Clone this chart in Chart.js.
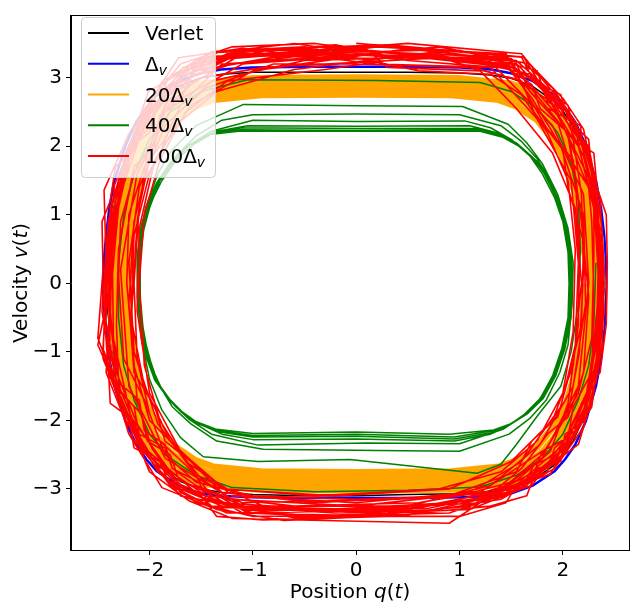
<!DOCTYPE html>
<html>
<head>
<meta charset="utf-8">
<script src="https://cdn.jsdelivr.net/npm/chart.js@4.4.1/dist/chart.umd.min.js"></script>
<style>
  html, body { margin: 0; padding: 0; background: #fff; }
</style>
</head>
<body>
<canvas id="phase" width="635" height="611"></canvas>
<script>
// legend text: main part + italic subscript
var legendMain = ["Verlet", "\u0394", "20\u0394", "40\u0394", "100\u0394"];
var legendSub = ["", "v", "v", "v", "v"];
var seriesColors = ["#000000", "#0000ff", "#ffa500", "#008000", "#ff0000"];

var xTicks = [-2, -1, 0, 1, 2];
var yTicks = [-3, -2, -1, 0, 1, 2, 3];

// Verlet reference orbit
var verletQ = [0, 0.5, 1.0, 1.3, 1.5, 1.7, 1.9, 2.0, 2.1, 2.2, 2.3, 2.35, 2.38, 2.395, 2.4,
  2.395, 2.38, 2.35, 2.3, 2.2, 2.1, 2.0, 1.9, 1.7, 1.5, 1.3, 1.0, 0.5, 0,
  -0.5, -1.0, -1.3, -1.5, -1.7, -1.9, -2.0, -2.1, -2.2, -2.3, -2.35, -2.38, -2.41, -2.43,
  -2.41, -2.38, -2.35, -2.3, -2.2, -2.1, -2.0, -1.9, -1.7, -1.5, -1.3, -1.0, -0.5, 0];
var verletV = [3.08, 3.08, 3.07, 3.04, 2.99, 2.88, 2.67, 2.51, 2.29, 1.97, 1.46, 1.06, 0.68, 0.35, 0,
  -0.35, -0.68, -1.06, -1.46, -1.97, -2.29, -2.51, -2.67, -2.88, -2.99, -3.04, -3.07, -3.08, -3.1,
  -3.1, -3.08, -3.05, -3.0, -2.89, -2.68, -2.52, -2.3, -1.98, -1.47, -1.07, -0.69, -0.35, 0,
  0.35, 0.69, 1.07, 1.47, 1.98, 2.3, 2.52, 2.68, 2.89, 3.0, 3.05, 3.08, 3.08, 3.08];

// Delta_v orbit
var blueQ = [0, 0.5, 1.01, 1.31, 1.51, 1.71, 1.92, 2.02, 2.12, 2.22, 2.32, 2.37, 2.4, 2.415, 2.42,
  2.415, 2.4, 2.37, 2.32, 2.22, 2.12, 2.02, 1.92, 1.71, 1.51, 1.31, 1.01, 0.5, 0,
  -0.5, -1.01, -1.31, -1.52, -1.72, -1.93, -2.03, -2.13, -2.23, -2.34, -2.39, -2.42, -2.44, -2.45,
  -2.44, -2.42, -2.39, -2.34, -2.23, -2.13, -2.03, -1.93, -1.72, -1.52, -1.31, -1.01, -0.5, 0];
var blueV = [3.16, 3.16, 3.15, 3.12, 3.06, 2.95, 2.74, 2.57, 2.35, 2.02, 1.5, 1.09, 0.7, 0.36, 0,
  -0.36, -0.7, -1.09, -1.5, -2.02, -2.35, -2.57, -2.74, -2.95, -3.06, -3.1, -3.12, -3.13, -3.13,
  -3.13, -3.12, -3.1, -3.06, -2.95, -2.74, -2.57, -2.35, -2.02, -1.5, -1.09, -0.7, -0.36, 0,
  0.36, 0.7, 1.09, 1.5, 2.02, 2.35, 2.57, 2.74, 2.95, 3.06, 3.12, 3.15, 3.16, 3.16];

// 20 Delta_v orbits (drawn thick, they form the orange band)
var orangeQ = [
  2.21, 2.19, 2.12, 2.03, 1.93, 1.75, 1.56, 1.38, 0.92, 0, -0.92, -1.38, -1.56, -1.75, -1.93, -2.03, -2.12, -2.19,
  -2.21, -2.19, -2.12, -2.03, -1.93, -1.75, -1.56, -1.38, -0.92, 0, 0.92, 1.38, 1.56, 1.75, 1.93, 2.03, 2.12, 2.19,
  2.27, 2.25, 2.17, 2.08, 1.99, 1.8, 1.61, 1.42, 0.95, 0, -0.95, -1.42, -1.61, -1.8, -1.99, -2.08, -2.17, -2.25,
  -2.27, -2.25, -2.17, -2.08, -1.99, -1.8, -1.61, -1.42, -0.95, 0, 0.95, 1.42, 1.61, 1.8, 1.99, 2.08, 2.17, 2.25,
  2.33, 2.31, 2.23, 2.14, 2.04, 1.85, 1.65, 1.46, 0.97, 0, -0.97, -1.46, -1.65, -1.85, -2.04, -2.14, -2.23, -2.31,
  -2.33, -2.31, -2.23, -2.14, -2.04, -1.85, -1.65, -1.46, -0.97, 0, 0.97, 1.46, 1.65, 1.85, 2.04, 2.14, 2.23, 2.31,
  2.38, 2.36, 2.28, 2.18, 2.08, 1.88, 1.69, 1.49, 0.99, 0, -0.99, -1.49, -1.69, -1.88, -2.08, -2.18, -2.28, -2.36,
  -2.38, -2.36, -2.28, -2.18, -2.08, -1.88, -1.69, -1.49, -0.99, 0, 0.99, 1.49, 1.69, 1.88, 2.08, 2.18, 2.28, 2.36, 2.38];
var orangeV = [
  0, -0.61, -1.31, -1.77, -2.05, -2.39, -2.58, -2.68, -2.75, -2.76, -2.75, -2.68, -2.58, -2.39, -2.05, -1.77, -1.31, -0.61,
  0, 0.61, 1.31, 1.77, 2.05, 2.39, 2.58, 2.68, 2.75, 2.76, 2.75, 2.68, 2.58, 2.39, 2.05, 1.77, 1.31, 0.61,
  0, -0.63, -1.35, -1.82, -2.12, -2.47, -2.66, -2.77, -2.84, -2.85, -2.84, -2.77, -2.66, -2.47, -2.12, -1.82, -1.35, -0.63,
  0, 0.63, 1.35, 1.82, 2.12, 2.47, 2.66, 2.77, 2.84, 2.85, 2.84, 2.77, 2.66, 2.47, 2.12, 1.82, 1.35, 0.63,
  0, -0.65, -1.39, -1.88, -2.18, -2.54, -2.74, -2.85, -2.92, -2.93, -2.92, -2.85, -2.74, -2.54, -2.18, -1.88, -1.39, -0.65,
  0, 0.65, 1.39, 1.88, 2.18, 2.54, 2.74, 2.85, 2.92, 2.93, 2.92, 2.85, 2.74, 2.54, 2.18, 1.88, 1.39, 0.65,
  0, -0.66, -1.42, -1.92, -2.23, -2.6, -2.81, -2.91, -3.0, -3.02, -3.0, -2.92, -2.82, -2.61, -2.24, -1.93, -1.43, -0.66,
  0, 0.66, 1.42, 1.92, 2.23, 2.6, 2.81, 2.91, 2.99, 3.0, 2.99, 2.91, 2.81, 2.6, 2.23, 1.92, 1.42, 0.66, 0];

// 40 Delta_v orbit, [q, v] pairs
var greenOrbit = [
  [2.32, 0.3], [2.3, -0.6], [2.25, -1.2], [2.15, -1.7], [2.0, -2.2], [1.8, -2.55], [1.55, -2.8], [1.2, -2.97], [0.5, -3.02], [-0.4, -3.04],
  [-1.2, -2.98], [-1.55, -2.8], [-1.8, -2.55], [-2.0, -2.2], [-2.15, -1.7], [-2.25, -1.2], [-2.3, -0.5], [-2.3, 0.3], [-2.25, 1.0], [-2.15, 1.6],
  [-2.0, 2.1], [-1.8, 2.5], [-1.5, 2.8], [-1.05, 2.97], [0.2, 2.96], [1.2, 2.93], [1.5, 2.8], [1.75, 2.55], [1.95, 2.2], [2.08, 1.75], [2.15, 1.2], [2.17, 0.5],
  [2.15, -0.3], [2.08, -1.0], [1.98, -1.5], [1.76, -1.92], [1.55, -2.35], [1.4, -2.64], [1.17, -2.77], [-0.06, -2.57], [-0.95, -2.6], [-1.48, -2.53],
  [-1.7, -2.25], [-1.88, -1.85], [-2.0, -1.4], [-2.08, -0.8], [-2.12, 0.0], [-2.1, 0.6], [-2.04, 1.1], [-1.92, 1.6], [-1.78, 1.95], [-1.55, 2.3],
  [-1.09, 2.61], [0.0, 2.59], [1.03, 2.58], [1.47, 2.32], [1.65, 2.05], [1.8, 1.75], [1.95, 1.3], [2.05, 0.8], [2.1, 0.3],
  [2.09, -0.3], [2.05, -0.9], [1.97, -1.3], [1.84, -1.7], [1.68, -1.97], [1.48, -2.2], [1.0, -2.45], [0.2, -2.44], [-0.9, -2.42], [-1.35, -2.3],
  [-1.6, -2.05], [-1.78, -1.8], [-1.92, -1.45], [-2.02, -1.0], [-2.08, -0.5], [-2.1, 0.2], [-2.07, 0.7], [-2.0, 1.1], [-1.9, 1.5], [-1.75, 1.85],
  [-1.55, 2.15], [-1.3, 2.38], [-1.0, 2.46], [0.0, 2.47], [1.0, 2.46], [1.4, 2.3], [1.6, 2.07], [1.75, 1.82], [1.88, 1.5], [1.98, 1.1], [2.05, 0.6],
  [2.07, 0.0], [2.06, -0.5], [2.0, -1.0], [1.9, -1.4], [1.76, -1.72], [1.6, -1.95], [1.42, -2.13], [1.0, -2.34], [0.1, -2.33], [-0.95, -2.36],
  [-1.4, -2.2], [-1.62, -1.98], [-1.76, -1.78], [-1.88, -1.55], [-1.97, -1.25], [-2.05, -0.8], [-2.09, -0.3], [-2.1, 0.3], [-2.06, 0.8], [-2.0, 1.15],
  [-1.9, 1.5], [-1.76, 1.8], [-1.6, 2.03], [-1.4, 2.22], [-1.0, 2.38], [0.0, 2.36], [1.05, 2.37], [1.3, 2.27], [1.5, 2.1], [1.68, 1.86], [1.8, 1.6],
  [1.92, 1.25], [2.0, 0.9], [2.05, 0.45],
  [2.06, 0.0], [2.05, -0.5], [1.99, -0.95], [1.9, -1.35], [1.78, -1.68], [1.62, -1.92], [1.45, -2.1], [1.3, -2.2], [0.95, -2.3], [0.0, -2.27],
  [-1.0, -2.28], [-1.3, -2.2], [-1.52, -2.05], [-1.68, -1.88], [-1.8, -1.7], [-1.92, -1.45], [-2.0, -1.15], [-2.06, -0.7], [-2.09, -0.2], [-2.09, 0.4],
  [-2.05, 0.85], [-1.98, 1.2], [-1.88, 1.5], [-1.74, 1.8], [-1.57, 2.03], [-1.35, 2.22], [-1.05, 2.3], [0.0, 2.29], [1.1, 2.3], [1.35, 2.2],
  [1.55, 2.05], [1.7, 1.85], [1.82, 1.6], [1.92, 1.3], [2.0, 0.95], [2.05, 0.45],
  [2.07, 0.0], [2.06, -0.5], [2.0, -0.95], [1.91, -1.35], [1.79, -1.68], [1.64, -1.92], [1.47, -2.08], [1.3, -2.18], [0.95, -2.27], [0.0, -2.23],
  [-1.0, -2.24], [-1.32, -2.17], [-1.53, -2.05], [-1.69, -1.88], [-1.81, -1.7], [-1.93, -1.45], [-2.01, -1.12], [-2.07, -0.68], [-2.1, -0.2], [-2.1, 0.4],
  [-2.06, 0.85], [-1.99, 1.2], [-1.9, 1.5], [-1.76, 1.8], [-1.6, 2.03], [-1.38, 2.2], [-1.1, 2.27], [0.0, 2.26], [1.15, 2.26], [1.38, 2.17],
  [1.57, 2.02], [1.72, 1.82], [1.84, 1.58], [1.93, 1.28], [2.01, 0.93], [2.06, 0.45],
  [2.08, 0.0], [2.07, -0.5], [2.01, -0.95], [1.92, -1.35], [1.8, -1.68], [1.65, -1.9], [1.48, -2.06], [1.32, -2.15], [0.95, -2.24], [0.0, -2.2],
  [-1.0, -2.22], [-1.33, -2.15], [-1.55, -2.03], [-1.7, -1.87], [-1.82, -1.68], [-1.94, -1.43], [-2.02, -1.1], [-2.08, -0.66], [-2.11, -0.2], [-2.11, 0.4],
  [-2.07, 0.85], [-2.0, 1.2], [-1.92, 1.48], [-1.78, 1.78], [-1.62, 2.01], [-1.4, 2.18], [-1.12, 2.24], [0.0, 2.23], [1.18, 2.24], [1.4, 2.15],
  [1.58, 2.0], [1.73, 1.8], [1.85, 1.56], [1.94, 1.26], [2.02, 0.92], [2.07, 0.45],
  [2.09, 0.0], [2.08, -0.5], [2.02, -0.95], [1.93, -1.35], [1.81, -1.68], [1.66, -1.9], [1.49, -2.05], [1.33, -2.14], [0.9, -2.2], [0.0, -2.17],
  [-1.0, -2.19], [-1.35, -2.13], [-1.56, -2.01], [-1.71, -1.85], [-1.83, -1.66], [-1.95, -1.41], [-2.03, -1.08], [-2.09, -0.64], [-2.12, -0.2], [-2.12, 0.4],
  [-2.08, 0.85], [-2.01, 1.2], [-1.93, 1.47], [-1.8, 1.76], [-1.64, 2.0], [-1.42, 2.17], [-1.14, 2.22], [0.0, 2.22], [1.2, 2.22], [1.42, 2.13],
  [1.6, 1.98], [1.75, 1.78], [1.86, 1.54], [1.95, 1.24], [2.03, 0.9], [2.08, 0.45], [2.09, 0.0]
];

// 100 Delta_v orbit, [q, v] pairs
var redOrbit = [
  [0.0, 3.5], [1.6, 3.3], [1.7, 3.0], [2.1, 2.4], [2.2, 1.7], [2.38, 0.6], [2.35, -1.1], [2.2, -1.95], [1.88, -2.78], [1.3, -3.1], [0.9, -3.5],
  [-1.2, -3.43], [-1.62, -3.17], [-2.0, -2.75], [-2.45, -1.1], [-2.42, 0.3], [-2.44, 1.36], [-2.2, 2.18], [-1.72, 3.29], [-1.1, 3.43],
  [0.2, 3.2], [1.3, 3.15], [1.75, 2.4], [2.08, 1.5], [2.15, 0.3], [2.12, -0.9], [1.98, -1.8], [1.6, -2.6], [1.1, -3.05], [0.0, -3.2],
  [-1.2, -3.1], [-1.7, -2.45], [-2.0, -1.6], [-2.12, -0.4], [-2.1, 0.8], [-1.95, 1.8], [-1.6, 2.6], [-1.0, 3.1],
  [0.5, 3.42], [1.55, 3.25], [1.85, 2.85], [1.95, 2.55], [2.2, 2.0], [2.3, 1.5], [2.4, 0.0], [2.3, -1.6], [2.15, -2.35], [1.75, -2.8], [1.2, -3.15],
  [0.2, -3.3], [-1.4, -3.27], [-1.88, -2.98], [-2.2, -2.2], [-2.38, -1.3], [-2.4, 0.5], [-2.34, 1.43], [-2.1, 2.32], [-1.88, 2.94], [-1.5, 3.3], [-0.6, 3.38],
  [0.6, 3.3], [1.45, 3.18], [1.7, 2.7], [1.98, 2.0], [2.2, 1.0], [2.22, -0.3], [2.1, -1.5], [1.78, -2.35], [1.3, -2.95], [0.5, -3.25],
  [-0.9, -3.25], [-1.55, -2.8], [-1.92, -2.05], [-2.15, -1.0], [-2.2, 0.3], [-2.1, 1.4], [-1.85, 2.3], [-1.4, 2.95], [-0.5, 3.25],
  [0.6, 3.3], [1.45, 3.2], [1.8, 2.6], [2.17, 2.3], [2.2, 1.9], [2.33, 1.0], [2.35, -0.6], [2.2, -1.92], [2.0, -2.5], [1.6, -2.9], [1.0, -3.22],
  [-0.8, -3.35], [-1.5, -3.12], [-1.85, -2.85], [-2.15, -2.1], [-2.5, -0.9], [-2.36, 0.1], [-2.27, 1.65], [-2.01, 2.8], [-1.34, 3.37], [-0.3, 3.45],
  [0.9, 3.3], [1.7, 3.05], [1.9, 2.6], [2.1, 2.1], [2.18, 1.3], [2.2, 0.2], [2.16, -1.0], [2.05, -1.9], [1.8, -2.5], [1.45, -2.95], [0.9, -3.2],
  [-0.3, -3.3], [-1.3, -3.2], [-1.75, -2.9], [-1.98, -2.4], [-2.12, -1.7], [-2.18, -0.6], [-2.12, 0.9], [-2.02, 1.9], [-1.85, 2.6], [-1.55, 3.1], [-0.8, 3.3],
  [0.0, 3.35], [1.5, 3.25], [1.62, 2.85], [1.85, 2.25], [2.1, 1.8], [2.18, 0.9], [2.25, -0.2], [2.2, -1.3], [2.05, -1.95], [1.85, -2.2], [1.6, -2.7],
  [1.2, -3.2], [0.0, -3.3], [-1.1, -3.25], [-1.5, -2.85], [-1.8, -2.3], [-2.0, -2.0], [-2.15, -1.2], [-2.22, 0.0], [-2.2, 1.0], [-2.05, 1.7],
  [-1.85, 2.1], [-1.7, 2.6], [-1.3, 3.2],
  [0.1, 3.35], [1.3, 3.22], [1.62, 3.05], [1.95, 2.7], [2.15, 2.2], [2.3, 1.35], [2.36, 0.35], [2.32, -0.9], [2.2, -2.0], [1.95, -2.6], [1.45, -3.05],
  [0.7, -3.28], [-0.5, -3.3], [-1.25, -3.35], [-1.7, -3.05], [-1.98, -2.6], [-2.25, -1.95], [-2.42, -1.3], [-2.38, -0.2], [-2.3, 1.1], [-2.18, 1.9],
  [-1.98, 2.55], [-1.65, 3.1], [-1.2, 3.3],
  [0.5, 3.5], [1.6, 3.35], [1.76, 3.05], [2.02, 2.58], [2.24, 1.95], [2.34, 1.0], [2.4, -0.1], [2.3, -1.4], [2.12, -2.2], [1.8, -2.75], [1.3, -3.12],
  [0.5, -3.38], [-0.7, -3.46], [-1.35, -3.3], [-1.8, -2.95], [-2.1, -2.35], [-2.36, -1.4], [-2.46, -0.4], [-2.4, 0.9], [-2.22, 1.95], [-2.0, 2.65],
  [-1.7, 3.2], [-1.2, 3.45], [-0.4, 3.5],
  [0.9, 3.25], [1.6, 2.95], [1.72, 2.5], [2.0, 1.95], [2.05, 1.4], [2.2, 0.6], [2.18, -0.6], [2.05, -1.4], [1.95, -1.95], [1.7, -2.3], [1.55, -2.75],
  [0.9, -3.1], [-0.4, -3.2], [-1.3, -3.05], [-1.6, -2.6], [-1.85, -2.3], [-1.95, -1.8], [-2.15, -1.3], [-2.2, -0.3], [-2.15, 0.9], [-2.05, 1.5],
  [-1.9, 1.9], [-1.75, 2.45], [-1.45, 2.85], [-0.8, 3.2],
  [0.0, 3.2], [1.1, 3.15], [1.55, 2.98], [1.88, 2.65], [2.05, 2.15], [2.12, 1.5], [2.16, 0.6], [2.15, -0.6], [2.05, -1.75], [1.88, -2.45], [1.55, -2.88],
  [1.0, -3.1], [0.0, -3.15], [-1.0, -3.1], [-1.55, -2.9], [-1.85, -2.5], [-2.0, -1.9], [-2.12, -1.1], [-2.15, 0.0], [-2.1, 1.1], [-1.98, 1.95],
  [-1.85, 2.55], [-1.55, 2.98], [-0.9, 3.15],
  [0.7, 3.28], [1.5, 3.15], [1.8, 2.9], [2.08, 2.42], [2.28, 1.75], [2.38, 0.8], [2.38, -0.7], [2.25, -1.7], [2.0, -2.4], [1.65, -2.95], [1.1, -3.25],
  [0.2, -3.38], [-1.0, -3.4], [-1.55, -3.2], [-1.92, -2.75], [-2.18, -2.1], [-2.4, -1.3], [-2.45, -0.1], [-2.36, 1.2], [-2.2, 2.0], [-1.95, 2.7],
  [-1.6, 3.2], [-1.0, 3.4], [0.1, 3.42],
  [0.3, 3.15], [1.2, 3.1], [1.55, 2.55], [1.9, 1.9], [2.12, 1.1], [2.18, 0.0], [2.1, -1.2], [1.9, -2.0], [1.5, -2.6], [0.9, -3.0], [-0.2, -3.1],
  [-1.3, -3.0], [-1.8, -2.3], [-2.05, -1.5], [-2.18, -0.5], [-2.15, 0.7], [-2.0, 1.6], [-1.75, 2.3], [-1.35, 2.8], [-0.6, 3.12],
  [0.8, 3.38], [1.62, 3.22], [1.9, 2.85], [2.12, 2.35], [2.3, 1.55], [2.37, 0.4], [2.34, -1.0], [2.18, -2.05], [1.9, -2.62], [1.4, -3.0], [0.6, -3.2],
  [-0.6, -3.25], [-1.45, -3.1], [-1.85, -2.7], [-2.12, -2.05], [-2.32, -1.3], [-2.4, -0.3], [-2.34, 0.95], [-2.2, 1.8], [-1.98, 2.5], [-1.7, 3.0],
  [-1.2, 3.3], [-0.2, 3.35],
  [0.4, 3.3], [1.4, 3.25], [1.68, 3.0], [1.98, 2.55], [2.2, 1.85], [2.32, 1.1], [2.39, 0.0], [2.35, -1.2], [2.2, -2.1], [1.92, -2.7], [1.4, -3.15],
  [0.8, -3.3], [-0.2, -3.35], [-1.3, -3.25], [-1.7, -3.0], [-2.0, -2.5], [-2.25, -1.8], [-2.45, -0.95], [-2.4, 0.4], [-2.3, 1.5], [-2.1, 2.25],
  [-1.85, 2.8], [-1.45, 3.25], [-0.6, 3.35],
  [0.7, 3.4], [1.55, 3.2], [1.68, 2.8], [1.95, 2.35], [2.05, 1.85], [2.3, 1.3], [2.3, 0.4], [2.28, -0.8], [2.15, -1.6], [1.95, -2.1], [1.8, -2.55],
  [1.5, -2.9], [1.05, -3.3], [-0.3, -3.4], [-1.05, -3.35], [-1.45, -3.0], [-1.65, -2.65], [-1.9, -2.3], [-2.05, -1.7], [-2.25, -1.1], [-2.3, 0.1],
  [-2.28, 0.9], [-2.15, 1.6], [-2.0, 2.0], [-1.85, 2.5], [-1.6, 2.9], [-1.1, 3.35],
  [-0.3, 3.28], [1.2, 3.3], [1.5, 3.1], [1.7, 2.9], [1.78, 2.55], [2.05, 2.2], [2.1, 1.75], [2.25, 1.4], [2.28, 0.9], [2.3, -0.2], [2.28, -1.3],
  [2.1, -1.8], [2.05, -2.25], [1.8, -2.45], [1.7, -2.85], [1.35, -3.05], [0.4, -3.15], [-1.1, -3.2], [-1.55, -2.95], [-1.78, -2.7], [-1.85, -2.35],
  [-2.05, -2.15], [-2.1, -1.7], [-2.3, -1.45], [-2.32, -0.6], [-2.3, 0.5], [-2.2, 1.3], [-2.15, 1.7], [-1.95, 2.0], [-1.9, 2.45], [-1.7, 2.65],
  [-1.62, 3.0], [-1.2, 3.2],
  [0.2, 3.45], [1.45, 3.35], [1.55, 3.1], [1.78, 2.95], [1.85, 2.65], [2.05, 2.5], [2.1, 2.1], [2.3, 1.9], [2.33, 1.4], [2.42, 1.0], [2.43, 0.3],
  [2.42, -0.6], [2.36, -1.3], [2.25, -1.5], [2.22, -2.0], [2.02, -2.2], [1.98, -2.6], [1.75, -2.7], [1.65, -3.1], [1.3, -3.25], [0.3, -3.4],
  [-0.9, -3.45], [-1.35, -3.4], [-1.5, -3.1], [-1.8, -2.95], [-1.9, -2.6], [-2.15, -2.4], [-2.2, -1.95], [-2.38, -1.75], [-2.4, -1.2], [-2.5, -0.8],
  [-2.45, 0.2], [-2.46, 0.9], [-2.38, 1.2], [-2.33, 1.7], [-2.15, 1.95], [-2.1, 2.4], [-1.9, 2.65], [-1.82, 3.0], [-1.6, 3.15], [-1.4, 3.38], [-0.5, 3.45],
  [0.6, 3.1], [1.3, 3.05], [1.6, 2.75], [1.85, 2.2], [2.05, 1.5], [2.12, 0.5], [2.1, -0.7], [2.0, -1.6], [1.75, -2.3], [1.4, -2.75], [0.8, -3.0],
  [-0.4, -3.1], [-1.25, -3.0], [-1.65, -2.6], [-1.9, -2.0], [-2.05, -1.2], [-2.1, 0.0], [-2.05, 1.0], [-1.9, 1.8], [-1.65, 2.5], [-1.25, 2.95], [-0.3, 3.12],
  [1.0, 3.4], [1.75, 3.1], [1.82, 2.8], [2.05, 2.6], [2.1, 2.25], [2.25, 2.0], [2.3, 1.6], [2.36, 1.2], [2.4, 0.2], [2.38, -0.9], [2.32, -1.45],
  [2.18, -1.75], [2.12, -2.15], [1.92, -2.4], [1.85, -2.75], [1.55, -2.95], [1.45, -3.2], [1.0, -3.4], [-0.4, -3.4], [-1.1, -3.3], [-1.45, -3.15],
  [-1.52, -2.9], [-1.78, -2.7], [-1.85, -2.4], [-2.1, -2.2], [-2.15, -1.8], [-2.32, -1.5], [-2.35, -0.95], [-2.4, 0.0], [-2.38, 0.8], [-2.3, 1.4],
  [-2.22, 1.75], [-2.15, 2.05], [-1.98, 2.3], [-1.9, 2.7], [-1.62, 2.9], [-1.55, 3.25], [-1.0, 3.4],
  [0.0, 3.4], [1.5, 3.2], [2.15, 2.0], [2.36, 0.8], [2.32, -1.3], [2.05, -2.3], [1.5, -3.0], [0.3, -3.35], [-1.4, -3.25], [-2.05, -2.4], [-2.38, -1.2],
  [-2.4, 0.6], [-2.15, 2.1], [-1.6, 3.15], [-0.8, 3.42],
  [0.3, 3.48], [1.62, 3.3], [1.95, 2.5], [2.3, 1.2], [2.36, -0.3], [2.2, -1.9], [1.7, -2.95], [0.9, -3.35], [-0.6, -3.42], [-1.7, -3.1], [-2.2, -2.2],
  [-2.43, -0.7], [-2.35, 1.0], [-2.0, 2.55], [-1.45, 3.35], [-0.6, 3.5],
  [0.5, 3.25], [1.35, 3.15], [1.9, 2.3], [2.2, 1.3], [2.25, 0.0], [2.15, -1.5], [1.85, -2.4], [1.2, -3.05], [0.0, -3.25], [-1.2, -3.15], [-1.85, -2.55],
  [-2.2, -1.5], [-2.28, 0.2], [-2.12, 1.6], [-1.75, 2.65], [-1.1, 3.2], [-0.2, 3.3],
  [0.8, 3.45], [1.68, 3.2], [2.0, 2.7], [2.2, 2.25], [2.33, 1.3], [2.4, -0.4], [2.28, -1.8], [1.98, -2.55], [1.5, -3.05], [0.5, -3.3], [-1.0, -3.35],
  [-1.65, -3.0], [-2.05, -2.45], [-2.3, -1.6], [-2.44, -0.4], [-2.38, 1.1], [-2.15, 2.2], [-1.8, 2.9], [-1.25, 3.35], [-0.2, 3.48],
  [0.3, 3.32], [1.5, 3.28], [1.72, 2.95], [1.98, 2.75], [2.05, 2.4], [2.25, 2.1], [2.28, 1.6], [2.35, 0.7], [2.33, -0.5], [2.26, -1.55], [2.08, -2.1],
  [2.0, -2.45], [1.72, -2.65], [1.6, -3.0], [1.1, -3.3], [-0.2, -3.38], [-1.1, -3.35], [-1.45, -3.05], [-1.72, -2.85], [-1.8, -2.5], [-2.02, -2.3],
  [-2.08, -1.9], [-2.28, -1.6], [-2.35, -0.8], [-2.36, 0.4], [-2.3, 1.3], [-2.25, 1.55], [-2.18, 2.0], [-2.0, 2.2], [-1.95, 2.6], [-1.75, 2.8],
  [-1.68, 3.15], [-1.1, 3.35],
  [0.1, 3.38], [1.45, 3.3], [1.95, 2.45], [2.28, 1.45], [2.36, 0.1], [2.26, -1.5], [1.95, -2.5], [1.45, -3.1], [0.4, -3.28], [-1.0, -3.3], [-1.75, -2.85],
  [-2.18, -1.95], [-2.38, -0.6], [-2.36, 0.8], [-2.18, 1.95], [-1.8, 2.85], [-1.2, 3.3], [-0.2, 3.4]
];

function toPoints(qs, vs) {
  return qs.map(function (q, i) { return { x: q, y: vs[i] }; });
}

function pairsToPoints(pairs) {
  return pairs.map(function (p) { return { x: p[0], y: p[1] }; });
}

function minusSign(v) {
  return String(v).replace("-", "\u2212");
}

var FONT = "DejaVu Sans";

function orbit(label, points, color, width, order) {
  return {
    label: label,
    data: points,
    showLine: true,
    borderColor: color,
    backgroundColor: color,
    borderWidth: width,
    pointRadius: 0,
    tension: 0,
    fill: false,
    order: order,
    borderJoinStyle: "round"
  };
}

// frame, legend and axis titles
var decor = {
  id: "decor",
  afterDatasetsDraw: function (chart) {
    var ctx = chart.ctx;
    ctx.save();
    var bx = 81.5, by = 17.5, bw = 134, bh = 160, r = 4;
    ctx.beginPath();
    ctx.moveTo(bx + r, by);
    ctx.arcTo(bx + bw, by, bx + bw, by + bh, r);
    ctx.arcTo(bx + bw, by + bh, bx, by + bh, r);
    ctx.arcTo(bx, by + bh, bx, by, r);
    ctx.arcTo(bx, by, bx + bw, by, r);
    ctx.closePath();
    ctx.fillStyle = "rgba(255,255,255,0.8)";
    ctx.fill();
    ctx.strokeStyle = "#cccccc";
    ctx.lineWidth = 1;
    ctx.stroke();
    for (var i = 0; i < legendMain.length; i++) {
      var y = 33 + i * 30.75;
      ctx.beginPath();
      ctx.moveTo(88, y);
      ctx.lineTo(129, y);
      ctx.strokeStyle = seriesColors[i];
      ctx.lineWidth = 2;
      ctx.stroke();
      ctx.fillStyle = "#000";
      ctx.textBaseline = "alphabetic";
      ctx.textAlign = "left";
      ctx.font = "20px '" + FONT + "'";
      ctx.fillText(legendMain[i], 145, y + 7);
      if (legendSub[i]) {
        var w = ctx.measureText(legendMain[i]).width;
        ctx.font = "italic 14px '" + FONT + "'";
        ctx.fillText(legendSub[i], 145 + w, y + 11);
      }
    }
    ctx.restore();
  },
  afterDraw: function (chart) {
    var ctx = chart.ctx, a = chart.chartArea;
    ctx.save();
    ctx.strokeStyle = "#000";
    ctx.lineWidth = 1;
    ctx.strokeRect(Math.round(a.left) - 0.5, Math.round(a.top) - 0.5, Math.round(a.right - a.left) + 1, Math.round(a.bottom - a.top) + 1);
    ctx.fillStyle = "#000";
    ctx.textBaseline = "alphabetic";
    drawTitle(ctx, [["Position ", ""], ["q", "italic "], ["(", ""], ["t", "italic "], [")", ""]], (a.left + a.right) / 2, 598, 0);
    drawTitle(ctx, [["Velocity ", ""], ["v", "italic "], ["(", ""], ["t", "italic "], [")", ""]], 27, (a.top + a.bottom) / 2, -Math.PI / 2);
    ctx.restore();
  }
};

function drawTitle(ctx, parts, cx, cy, rot) {
  var total = 0, i;
  for (i = 0; i < parts.length; i++) {
    ctx.font = parts[i][1] + "20px '" + FONT + "'";
    total += ctx.measureText(parts[i][0]).width;
  }
  ctx.save();
  ctx.translate(cx, cy);
  ctx.rotate(rot);
  var x = -total / 2;
  ctx.textAlign = "left";
  for (i = 0; i < parts.length; i++) {
    ctx.font = parts[i][1] + "20px '" + FONT + "'";
    ctx.fillText(parts[i][0], x, 0);
    x += ctx.measureText(parts[i][0]).width;
  }
  ctx.restore();
}

function axis(min, max, ticks, fit) {
  return {
    type: "linear",
    min: min,
    max: max,
    afterBuildTicks: function (s) {
      s.ticks = ticks.map(function (v) { return { value: v }; });
    },
    afterFit: fit,
    grid: { drawOnChartArea: false, drawTicks: true, tickLength: 5, color: "#000", tickWidth: 1 },
    border: { display: true, color: "#000", width: 1 },
    ticks: {
      color: "#000",
      padding: 4,
      font: { family: FONT, size: 20 },
      callback: function (v) { return minusSign(v); }
    }
  };
}

new Chart("phase", {
  type: "scatter",
  data: {
    datasets: [
      orbit(legendMain[0], toPoints(verletQ, verletV), seriesColors[0], 1.5, 5),
      orbit(legendMain[1], toPoints(blueQ, blueV), seriesColors[1], 2.5, 4),
      orbit(legendMain[2], toPoints(orangeQ, orangeV), seriesColors[2], 7, 3),
      orbit(legendMain[3], pairsToPoints(greenOrbit), seriesColors[3], 1.5, 2),
      orbit(legendMain[4], pairsToPoints(redOrbit), seriesColors[4], 1.6, 1)
    ]
  },
  options: {
    responsive: false,
    animation: false,
    devicePixelRatio: 1,
    layout: { padding: { left: 0, right: 6, top: 7, bottom: 0 } },
    plugins: { legend: { display: false }, tooltip: { enabled: false } },
    scales: {
      x: axis(-2.76, 2.64, xTicks, function (s) { s.height = 61; }),
      y: axis(-3.89, 3.9, yTicks, function (s) { s.width = 71; })
    }
  },
  plugins: [decor]
});
</script>
</body>
</html>
